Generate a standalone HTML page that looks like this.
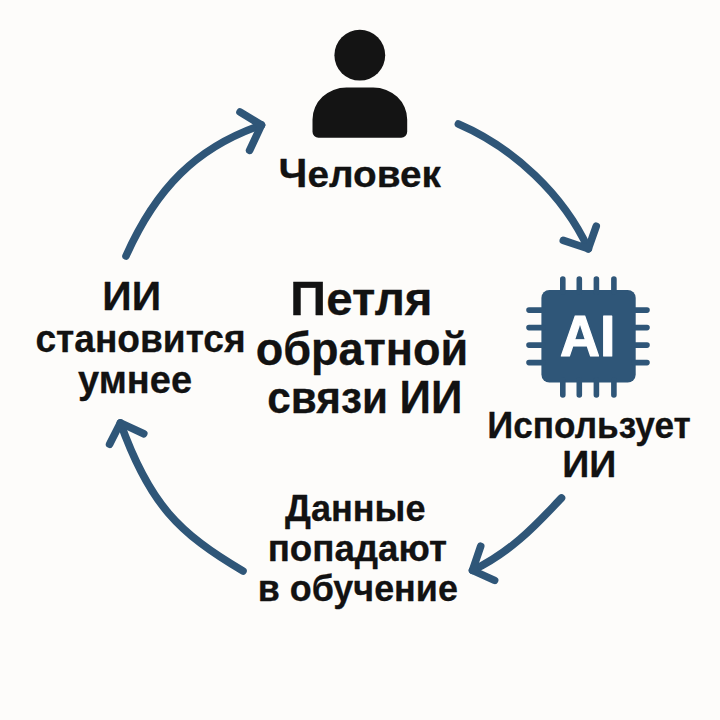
<!DOCTYPE html>
<html><head><meta charset="utf-8"><style>
html,body{margin:0;padding:0;background:#fdfcfa;}
svg{display:block}
text{font-family:"Liberation Sans",sans-serif;font-weight:bold;fill:#121212;stroke:#121212;stroke-linejoin:round}
</style></head><body>
<svg width="720" height="720" viewBox="0 0 720 720">
<rect width="720" height="720" fill="#fdfcfa"/>
<g fill="none" stroke="#2f5678" stroke-width="7.6" stroke-linecap="round" stroke-linejoin="round">
<path d="M126.0 256.0 C156.0 188.7 195.8 147.5 261.5 125.0"/>
<path d="M240 112.1 L261.5 125 L249.6 150.4"/>
<path d="M458.4 124.0 C514.1 148.0 563.6 195.1 588.3 248.8"/>
<path d="M563.3 240.4 L588.3 248.75 L596.25 226.25"/>
<path d="M561.5 498.0 C541.9 518.1 515.5 549.7 472.5 570.4"/>
<path d="M480.7 546.25 L472.5 570.4 L494.6 580.4"/>
<path d="M243.0 571.0 C178.8 533.1 149.4 504.1 120.4 422.9"/>
<path d="M109.6 444.2 L120.4 422.9 L143.75 433.75"/>
</g>
<g fill="#141414">
<circle cx="359.8" cy="55.2" r="25.4"/>
<path d="M312.5 131.7 V119.5 A34 32 0 0 1 346.5 87.5 H373.2 A34 32 0 0 1 407.2 119.5 V131.7 A6 6 0 0 1 401.2 137.7 H318.5 A6 6 0 0 1 312.5 131.7 Z"/>
</g>
<rect x="541.4" y="289.9" width="94.3" height="92.7" rx="8" fill="#2f5678"/>
<g stroke="#2f5678" stroke-width="5.6" stroke-linecap="round">
<path d="M562.8 279 V292 M579.3 279 V292 M596.4 279 V292 M613.9 279 V292"/>
<path d="M562.8 380 V395 M579.3 380 V395 M596.4 380 V395 M613.9 380 V395"/>
<path d="M529 310.1 H543 M529 327.6 H543 M529 345.1 H543 M529 362.6 H543"/>
<path d="M634 310.1 H647 M634 327.6 H647 M634 345.1 H647 M634 362.6 H647"/>
</g>
<text transform="translate(559.9 355.6) scale(0.975 1)" font-size="56.8" style="fill:#fff;stroke:#fff" stroke-width="1.2">AI</text>
<text transform="translate(278.54 186.70) scale(1.0314 1)" stroke-width="0.3"><tspan font-size="39.86">Ч</tspan><tspan font-size="37.55">еловек</tspan></text>
<text transform="translate(289.99 314.80) scale(1.0371 1)" stroke-width="0.3"><tspan font-size="48.55">П</tspan><tspan font-size="45.85">етля</tspan></text>
<text transform="translate(255.68 364.50) scale(0.9576 1)" stroke-width="0.3"><tspan font-size="47.08">обратной</tspan></text>
<text transform="translate(267.35 413.40) scale(0.9490 1)" stroke-width="0.3"><tspan font-size="44.53">связи </tspan><tspan font-size="46.09">ИИ</tspan></text>
<text transform="translate(102.32 309.90) scale(1.0260 1)" stroke-width="0.3"><tspan font-size="39.86">ИИ</tspan></text>
<text transform="translate(35.44 351.50) scale(0.9600 1)" stroke-width="0.3"><tspan font-size="38.68">становится</tspan></text>
<text transform="translate(78.10 392.90) scale(0.9930 1)" stroke-width="0.3"><tspan font-size="38.30">умнее</tspan></text>
<text transform="translate(487.26 437.90) scale(0.9715 1)" stroke-width="0.3"><tspan font-size="37.25">И</tspan><tspan font-size="36.23">спользует</tspan></text>
<text transform="translate(562.16 477.10) scale(1.0184 1)" stroke-width="0.3"><tspan font-size="36.96">ИИ</tspan></text>
<text transform="translate(285.00 520.60) scale(0.9915 1)" stroke-width="0.3"><tspan font-size="36.67">Д</tspan><tspan font-size="36.42">анные</tspan></text>
<text transform="translate(267.67 560.60) scale(1.0132 1)" stroke-width="0.3"><tspan font-size="36.23">попадают</tspan></text>
<text transform="translate(257.68 600.50) scale(0.9615 1)" stroke-width="0.3"><tspan font-size="37.36">в обучение</tspan></text>
</svg>
</body></html>
